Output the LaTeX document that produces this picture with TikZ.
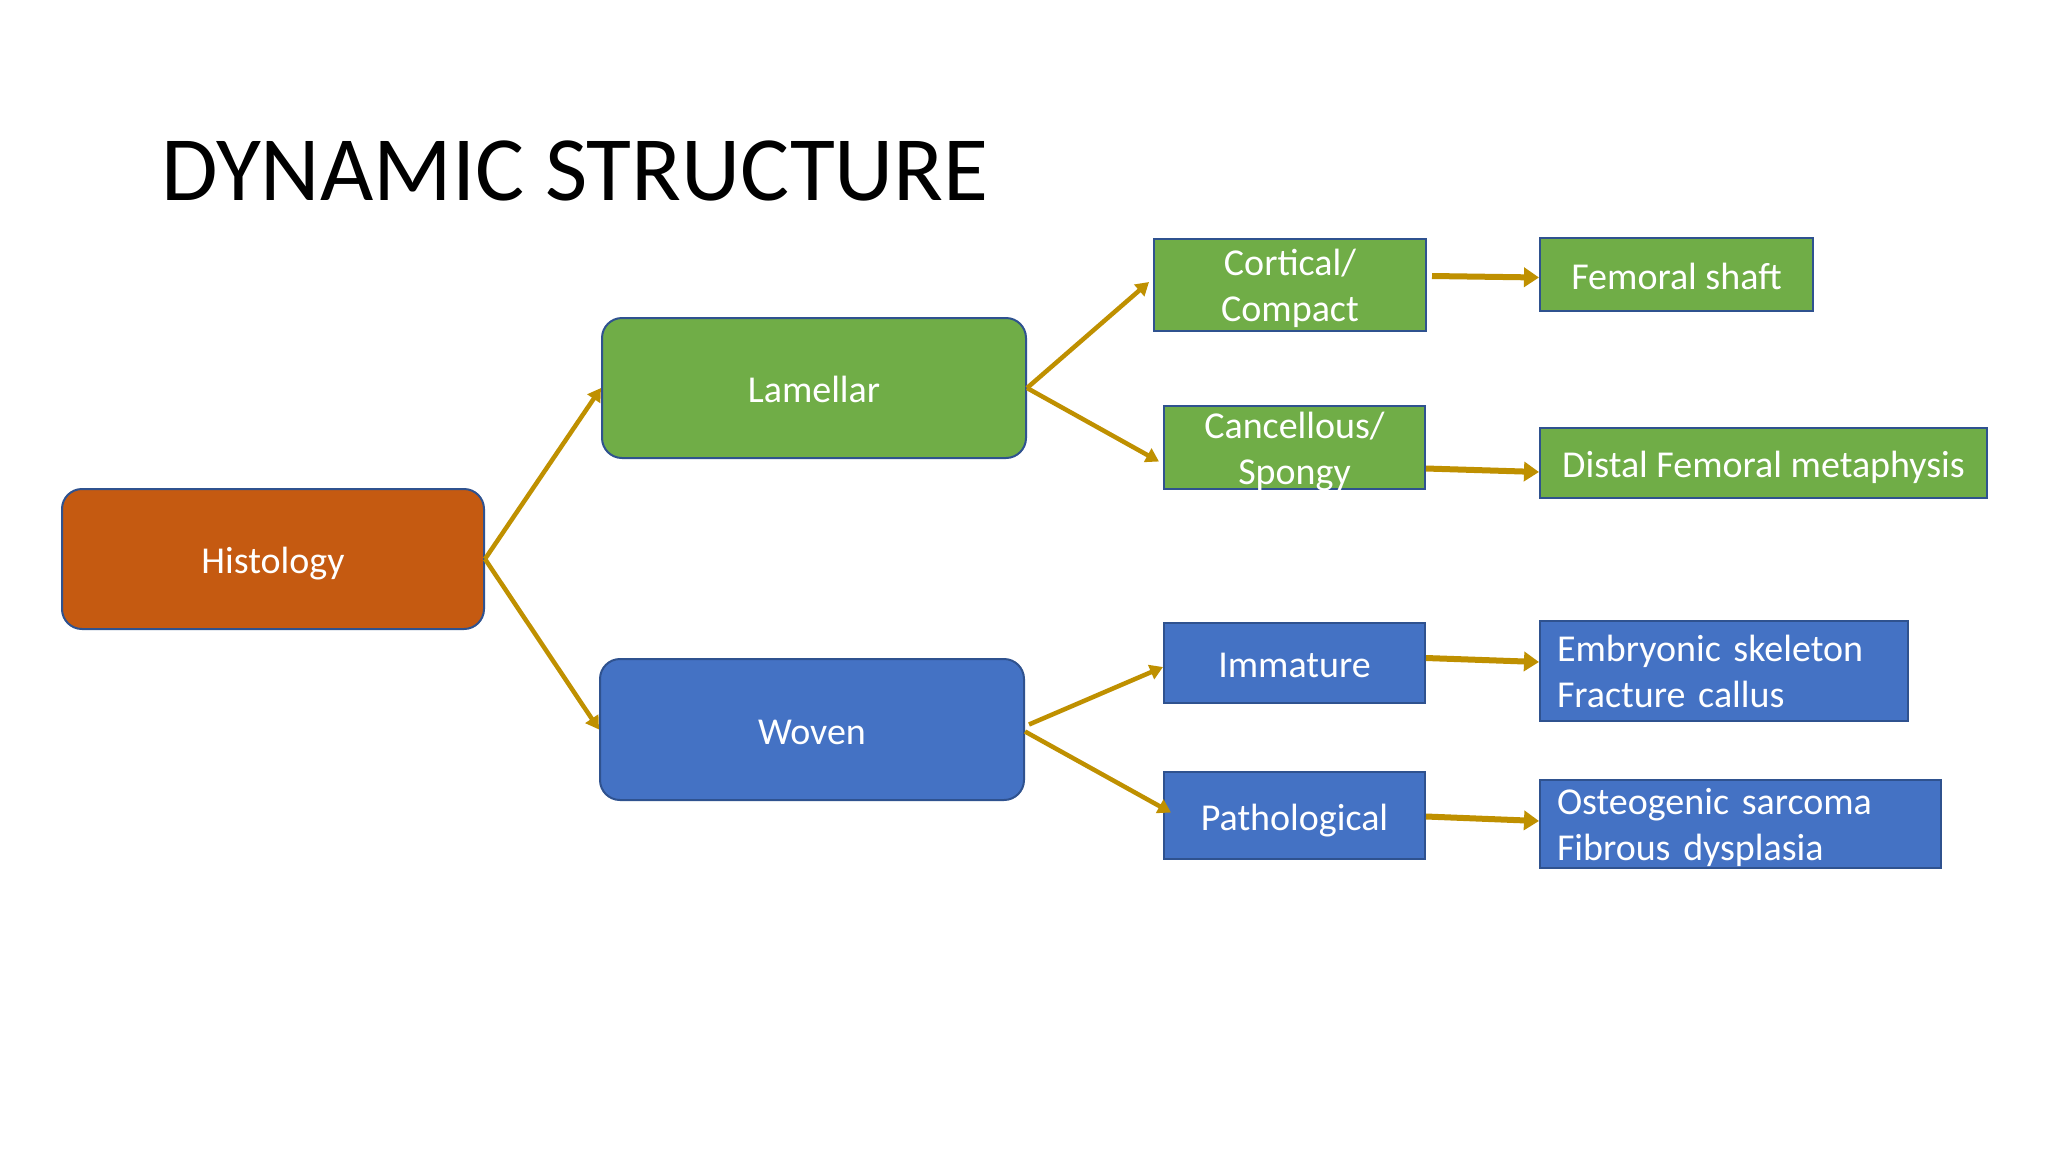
\documentclass[tikz,border=0pt]{standalone}
\usepackage{fontspec}
\setmainfont{Carlito}
\usetikzlibrary{arrows.meta,positioning}
\definecolor{boxgreen}{HTML}{70AD47}
\definecolor{boxblue}{HTML}{4472C4}
\definecolor{boxorange}{HTML}{C55A11}
\definecolor{edgeblue}{HTML}{2F528F}
\definecolor{arrowgold}{HTML}{BF9000}
\tikzset{
  base/.style={draw=edgeblue, line width=2pt, text=white, inner sep=0pt,
    font=\fontsize{38}{46}\selectfont, align=center},
  oneline/.style={text height=38.5pt, text depth=9pt},
  bigbox/.style={base, rounded corners=20pt},
  smallbox/.style={base},
  greenfill/.style={fill=boxgreen},
  bluefill/.style={fill=boxblue},
  conn/.style={draw=arrowgold, line width=4.5pt, -{Triangle[length=13pt,width=15pt]}},
  connh/.style={draw=arrowgold, line width=6pt, -{Triangle[length=15pt,width=19pt]}},
}
\begin{document}
\begin{tikzpicture}[x=1pt,y=-1pt]
\useasboundingbox (0,0) rectangle (2048,1152);
\fill[white] (0,0) rectangle (2048,1152);

\node[anchor=base west, inner sep=0pt, font=\fontsize{92}{110}\selectfont] (title) at (161,200) {DYNAMIC STRUCTURE};

\node[bigbox, oneline, fill=boxorange, minimum width=422pt, minimum height=140pt] (hist) at (273,559) {Histology};
\node[bigbox, oneline, greenfill, minimum width=424pt, minimum height=140pt] (lam) at (814,388) {Lamellar};
\node[bigbox, oneline, bluefill, minimum width=424pt, minimum height=141pt] (wov) at (812,729.5) {Woven};

\node[smallbox, greenfill, text depth=0pt, minimum width=272pt, minimum height=92pt] (cort) at (1290,285) {Cortical/\\Compact};
\node[smallbox, greenfill, minimum width=261pt, minimum height=83pt] (canc) at (1294.5,447.5) {};
\node[text=white, font=\fontsize{38}{46}\selectfont, align=center, inner sep=0pt, anchor=base] (canctext) at (1294.5,484) {Cancellous/\\Spongy};
\node[smallbox, oneline, bluefill, minimum width=261pt, minimum height=80pt] (imm) at (1294.5,663) {Immature};
\node[smallbox, oneline, bluefill, minimum width=261pt, minimum height=87pt] (path) at (1294.5,815.5) {Pathological};

\node[smallbox, oneline, greenfill, minimum width=273pt, minimum height=73pt] (fem) at (1676.5,274.5) {Femoral shaft};
\node[smallbox, oneline, greenfill, minimum width=447pt, minimum height=70pt] (dist) at (1763.5,463) {Distal Femoral metaphysis};
\node[smallbox, bluefill, minimum width=368pt, minimum height=100pt, align=left, text width=334pt, inner xsep=17pt] (emb) at (1724,671) {Embryonic skeleton\\Fracture callus};
\node[smallbox, bluefill, text depth=46pt, minimum width=401pt, minimum height=88pt, align=left, text width=367pt, inner xsep=17pt] (ost) at (1740.5,824) {Osteogenic sarcoma\\Fibrous dysplasia};

\draw[conn] (hist.east) -- (lam.west);
\draw[conn] (hist.east) -- (wov.west);
\draw[conn] (lam.east) -- ([xshift=-4pt,yshift=3pt]cort.west);
\draw[conn] (lam.east) -- ([xshift=-4pt,yshift=-14pt]canc.west);
\draw[conn] ([xshift=4pt,yshift=5pt]wov.east) -- ([yshift=-4pt]imm.west);
\draw[conn] ([yshift=-2pt]wov.east) -- ([xshift=8pt,yshift=3pt]path.west);

\draw[connh] ([xshift=5pt,yshift=9pt]cort.east) -- ([yshift=-3pt]fem.west);
\draw[connh] ([yshift=-21pt]canc.east) -- ([yshift=-9pt]dist.west);
\draw[connh] ([yshift=5pt]imm.east) -- ([yshift=9pt]emb.west);
\draw[connh] ([yshift=-1pt]path.east) -- ([yshift=3pt]ost.west);
\end{tikzpicture}
\end{document}
